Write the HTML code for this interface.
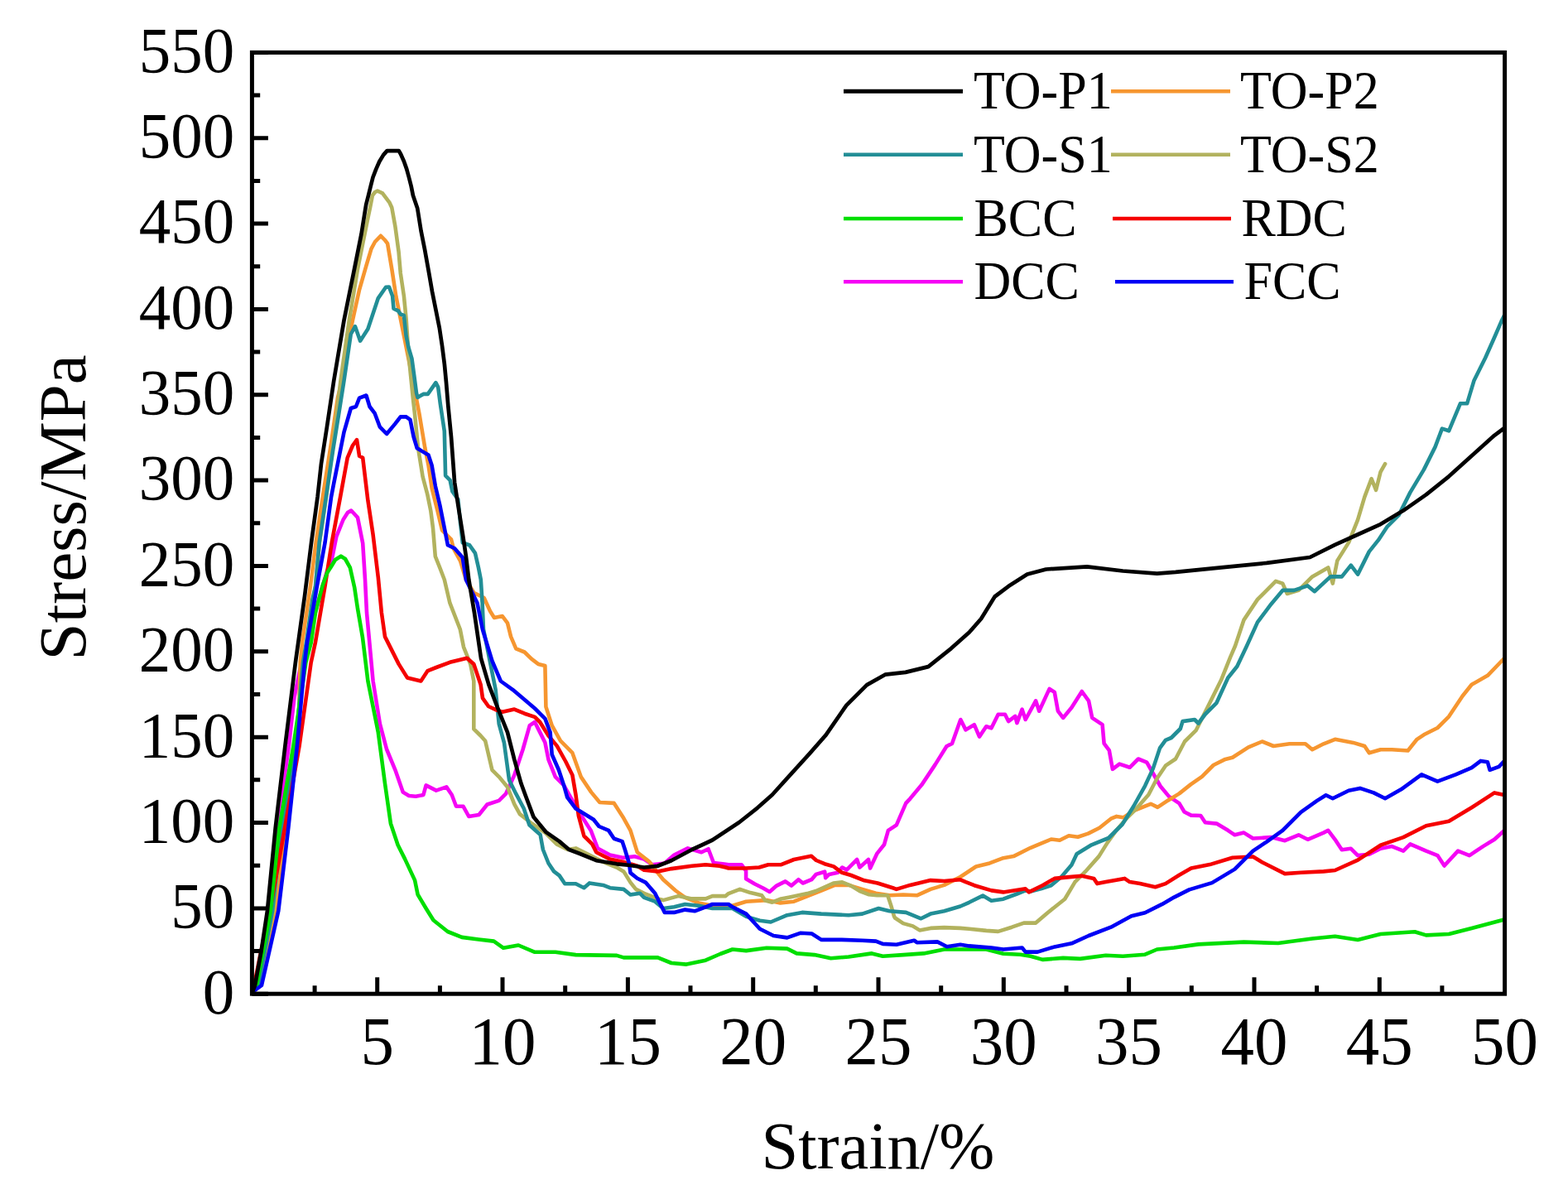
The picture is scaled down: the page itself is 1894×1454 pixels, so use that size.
<!DOCTYPE html>
<html><head><meta charset="utf-8"><title>Stress-strain curves</title>
<style>html,body{margin:0;padding:0;background:#fff;overflow:hidden;}svg{display:block;}</style></head>
<body>
<svg width="1894" height="1454" viewBox="0 0 1894 1454">
<rect width="1894" height="1454" fill="#fff"/>
<g fill="none" stroke-linejoin="round" stroke-linecap="round">
<polyline points="305.0,1198.0 309.0,1190.0 324.5,1100.0 335.0,1000.0 349.0,900.0 355.5,842.0 362.0,810.0 372.0,776.0 382.0,735.0 390.0,707.0 395.0,690.0 400.8,675.7 406.3,648.2 414.6,627.5 420.0,619.0 424.2,616.5 432.0,625.0 438.2,656.0 441.0,700.0 443.0,740.0 450.6,822.5 458.9,874.1 467.1,905.0 477.4,929.8 486.7,956.6 494.0,961.0 502.2,961.8 511.4,960.0 514.6,948.4 526.9,954.6 539.3,950.4 545.8,960.0 551.0,973.8 559.6,973.8 566.3,986.0 578.5,984.0 588.5,971.5 602.7,966.9 611.0,958.7 621.3,936.0 631.6,905.0 639.8,876.2 646.0,872.0 652.2,884.4 658.4,896.8 662.5,917.4 670.8,938.1 681.1,948.4 689.3,962.8 703.8,987.6 713.7,1002.9 721.9,1024.4 736.8,1032.6 753.3,1035.9 766.5,1034.3 778.0,1037.6 787.9,1044.2 802.8,1042.5 814.3,1032.6 830.8,1024.4 847.3,1029.3 855.6,1025.2 862.0,1042.0 875.0,1043.5 880.0,1044.3 895.8,1044.3 901.1,1051.7 901.1,1061.2 911.7,1067.5 922.2,1072.8 929.6,1077.0 938.1,1069.6 948.6,1064.4 956.0,1069.6 964.5,1062.2 969.8,1066.5 980.3,1062.2 985.6,1055.9 996.2,1052.7 997.2,1060.1 1001.4,1055.9 1012.0,1053.8 1017.3,1047.5 1022.6,1050.6 1027.8,1045.3 1035.2,1038.0 1038.4,1047.5 1049.0,1038.0 1051.1,1048.5 1059.5,1030.6 1068.0,1020.0 1072.9,1002.9 1082.8,996.3 1094.3,969.9 1099.3,964.6 1113.1,948.1 1129.6,923.4 1143.4,901.3 1150.0,897.9 1160.3,869.0 1166.5,881.4 1176.8,875.2 1183.0,889.6 1191.3,877.3 1197.5,879.3 1205.7,862.8 1214.0,862.8 1218.1,871.1 1226.3,864.9 1228.4,873.1 1234.6,856.6 1238.7,869.0 1251.1,846.3 1255.2,858.7 1267.6,831.9 1273.8,836.0 1277.9,858.7 1284.1,866.9 1294.4,854.6 1306.8,835.0 1315.0,846.3 1319.2,866.9 1331.6,875.2 1333.6,897.9 1339.8,906.1 1343.9,928.8 1352.2,922.6 1364.6,926.8 1374.9,916.5 1385.2,920.6 1393.4,935.0 1401.7,949.5 1412.0,961.9 1424.4,970.1 1430.6,980.5 1438.8,984.6 1450.3,985.0 1455.8,993.2 1469.5,994.6 1483.3,1002.8 1491.5,1008.3 1502.5,1005.6 1513.5,1012.5 1535.5,1011.1 1552.0,1015.2 1568.6,1008.3 1579.6,1013.8 1598.8,1005.6 1604.3,1002.8 1612.6,1013.8 1620.8,1026.2 1631.8,1024.8 1640.1,1033.1 1653.8,1031.7 1667.6,1024.8 1681.3,1022.1 1695.1,1027.6 1703.4,1019.3 1722.6,1027.6 1736.4,1033.1 1744.6,1045.5 1761.1,1027.6 1774.9,1033.1 1791.4,1022.1 1805.1,1013.8 1817.0,1003.0" stroke="#F505F5" stroke-width="4.6"/>
<polyline points="305.0,1198.0 314.8,1190.0 332.4,1100.0 344.4,1000.0 360.0,900.0 362.7,800.0 365.0,776.0 375.0,707.5 381.6,655.0 389.8,600.0 400.0,535.0 408.0,480.0 413.0,460.0 417.6,428.2 425.9,387.0 434.1,349.8 442.4,320.9 448.5,300.3 453.0,292.0 459.9,284.8 465.0,290.0 468.1,294.1 473.3,325.0 478.3,357.5 483.8,385.0 489.3,412.6 494.8,440.1 500.3,467.6 506.5,500.0 513.4,541.3 517.5,561.9 521.6,589.4 528.5,616.9 534.0,640.3 545.0,651.3 547.8,662.3 556.0,677.4 562.9,700.0 572.3,715.8 584.7,722.0 592.0,738.0 597.0,746.0 606.8,744.1 613.0,752.4 617.1,768.9 623.3,783.3 633.6,787.5 641.9,795.7 650.1,801.9 658.4,804.0 659.4,853.5 666.7,876.2 677.0,894.7 691.4,909.2 701.7,938.1 714.1,956.6 724.4,969.0 741.7,969.9 753.3,988.1 761.5,1002.9 769.8,1029.3 784.6,1040.9 794.5,1054.1 801.1,1062.3 816.0,1075.5 827.5,1083.8 844.0,1090.4 860.5,1093.7 884.8,1093.7 901.3,1088.7 926.0,1087.1 942.5,1090.4 959.0,1088.7 975.5,1082.1 992.0,1075.5 1008.5,1068.9 1025.0,1068.9 1041.5,1073.9 1058.0,1078.8 1074.5,1081.3 1091.0,1080.5 1107.5,1081.3 1124.0,1073.9 1140.5,1068.9 1160.0,1059.0 1178.9,1046.5 1195.4,1042.4 1211.9,1036.2 1224.3,1034.1 1244.9,1023.8 1269.7,1013.5 1280.0,1014.8 1291.0,1009.3 1302.0,1010.7 1314.4,1006.6 1328.1,999.7 1341.9,988.7 1348.8,985.9 1357.0,987.3 1369.4,979.0 1390.0,970.8 1398.3,974.9 1410.7,966.7 1424.4,958.4 1438.2,947.4 1451.9,937.8 1465.7,924.0 1480.0,916.9 1488.8,914.8 1508.0,902.4 1524.5,895.5 1538.3,901.0 1557.6,898.3 1576.8,898.3 1585.1,905.2 1598.8,898.3 1612.6,892.8 1634.6,896.9 1648.3,901.0 1653.8,909.3 1667.6,905.2 1681.3,905.2 1700.6,906.5 1711.6,892.8 1719.9,887.3 1736.4,879.0 1750.1,865.3 1766.6,840.5 1777.6,826.8 1796.9,815.8 1817.0,795.0" stroke="#F69630" stroke-width="4.6"/>
<polyline points="305.0,1198.0 312.0,1190.0 330.0,1100.0 341.0,1000.0 358.0,900.0 367.0,800.0 371.0,776.0 381.0,707.5 386.0,655.0 394.0,600.0 402.0,540.0 411.4,460.0 421.7,387.0 432.0,325.0 444.4,263.2 447.2,250.0 449.9,236.0 453.0,232.0 456.0,230.5 462.0,233.3 470.3,244.3 473.3,250.8 477.4,273.5 481.6,304.4 483.8,330.0 487.9,357.5 490.6,385.0 493.4,426.3 496.1,453.8 498.9,481.4 501.0,500.0 505.1,541.3 510.6,575.7 516.1,596.3 520.3,616.9 523.0,637.6 525.8,671.9 531.3,685.7 536.8,700.0 543.4,728.2 555.8,760.0 560.0,781.3 568.2,801.9 572.3,822.5 572.3,880.3 580.6,888.5 586.2,894.7 594.4,929.8 602.7,938.1 613.0,950.4 621.3,971.1 627.9,983.1 642.7,994.7 659.2,1006.2 672.4,1019.4 685.6,1026.0 695.5,1024.4 712.0,1032.6 728.5,1040.9 745.0,1047.5 753.3,1052.4 761.5,1065.6 768.1,1073.9 778.0,1078.8 794.5,1085.4 801.1,1087.1 819.3,1082.1 835.8,1085.4 852.3,1085.4 860.5,1082.1 876.5,1082.1 880.0,1079.1 893.7,1073.9 906.4,1078.1 920.1,1081.2 924.4,1087.6 932.8,1089.7 943.4,1085.5 953.9,1083.4 975.0,1079.1 985.6,1076.0 1006.7,1066.5 1017.3,1065.4 1027.8,1069.6 1038.4,1076.0 1049.0,1080.2 1059.5,1081.2 1072.2,1081.2 1076.4,1093.9 1080.0,1106.6 1081.1,1108.5 1091.0,1115.1 1102.6,1118.4 1110.8,1123.4 1124.0,1120.9 1140.5,1120.1 1160.0,1120.9 1170.6,1121.8 1191.3,1123.9 1205.7,1124.9 1222.2,1119.7 1236.7,1114.6 1251.1,1114.6 1265.5,1102.2 1286.2,1085.7 1298.5,1065.1 1310.9,1052.7 1327.4,1034.1 1337.7,1017.6 1348.1,1003.2 1360.4,988.7 1372.8,976.3 1387.3,959.8 1397.6,940.0 1407.9,924.7 1420.0,916.5 1431.0,895.5 1444.8,881.8 1461.3,848.8 1475.0,821.3 1486.0,793.8 1492.0,780.0 1502.5,748.6 1519.0,723.9 1541.0,701.9 1549.3,704.6 1554.8,717.0 1568.6,712.9 1585.1,696.4 1604.3,685.4 1609.8,704.6 1615.3,677.1 1629.1,655.1 1640.1,627.6 1648.3,600.1 1656.6,578.1 1662.1,591.8 1667.6,569.8 1673.1,560.2" stroke="#B2B25E" stroke-width="4.6"/>
<polyline points="305.0,1198.0 312.0,1190.0 329.0,1100.0 340.0,1000.0 357.0,900.0 366.0,800.0 370.0,776.0 377.4,723.8 381.2,707.5 385.7,655.0 393.9,600.0 402.0,545.0 410.0,495.0 415.5,460.0 423.8,403.5 429.0,394.2 435.1,411.7 444.4,397.3 456.8,360.1 466.1,346.7 470.0,346.5 474.1,357.5 475.5,372.7 481.0,375.4 483.8,379.5 487.9,380.9 490.6,405.7 493.4,419.4 497.5,433.2 500.3,453.8 503.0,474.5 504.4,480.0 511.3,475.9 516.8,475.9 526.4,462.1 529.2,467.6 531.9,488.2 536.8,520.6 538.1,574.3 543.6,579.8 546.4,593.5 553.3,603.2 556.0,630.7 558.8,655.4 567.0,658.2 573.9,667.8 578.0,685.7 580.8,700.0 582.6,728.2 584.0,760.0 588.3,781.3 598.6,832.8 602.7,874.1 608.9,896.8 615.1,942.2 623.3,958.7 632.8,976.5 639.4,996.3 652.6,1007.9 655.9,1026.0 662.5,1042.5 669.1,1052.4 675.7,1057.4 682.3,1067.3 695.5,1067.3 705.4,1072.2 712.0,1066.4 728.5,1068.9 736.8,1072.2 753.3,1073.9 761.5,1080.5 773.1,1078.8 778.0,1083.8 791.2,1088.7 801.1,1097.0 814.3,1095.3 827.5,1092.0 844.0,1093.7 860.5,1097.0 884.8,1097.0 901.3,1106.9 917.8,1111.8 931.0,1113.5 950.8,1105.2 968.9,1101.9 992.0,1103.6 1025.0,1105.2 1041.5,1103.6 1061.3,1097.0 1074.5,1100.3 1094.3,1101.9 1112.5,1109.3 1124.0,1103.6 1140.5,1100.3 1160.0,1094.5 1170.6,1089.8 1187.1,1081.6 1197.5,1087.7 1211.9,1085.7 1228.4,1079.5 1238.7,1075.4 1244.9,1076.4 1257.3,1073.3 1269.7,1069.2 1282.0,1058.9 1294.4,1044.4 1300.6,1031.3 1318.5,1020.3 1339.1,1012.0 1355.7,995.5 1369.4,973.5 1383.2,948.8 1392.8,928.1 1401.0,903.4 1407.9,893.8 1414.8,891.0 1425.8,880.0 1428.5,871.1 1443.0,869.0 1447.5,873.5 1455.8,862.5 1469.5,848.8 1483.3,818.5 1494.3,804.8 1506.0,780.0 1519.0,751.4 1535.5,729.4 1549.3,712.9 1563.1,712.9 1579.6,707.4 1587.8,714.2 1607.1,696.4 1620.8,696.4 1631.8,682.6 1640.1,693.6 1653.8,666.1 1664.8,652.4 1675.8,635.8 1689.6,622.1 1703.4,594.6 1719.9,567.1 1733.6,539.6 1741.9,517.6 1750.1,520.3 1763.9,487.3 1772.1,487.3 1780.4,459.8 1794.1,432.3 1805.1,407.5 1813.4,388.3 1817.0,381.0" stroke="#228E96" stroke-width="4.6"/>
<polyline points="305.0,1198.0 307.0,1190.0 315.0,1150.0 326.0,1100.0 344.0,1000.0 361.7,900.0 375.7,800.0 380.9,776.0 392.6,707.5 400.8,655.0 411.1,600.0 419.7,552.8 426.0,538.0 431.0,531.2 434.1,550.8 438.2,552.8 444.4,604.4 450.6,645.7 456.8,697.3 460.9,740.0 465.0,768.9 473.3,785.4 481.6,801.9 491.9,818.4 508.4,822.5 516.6,810.1 527.0,806.0 543.4,799.8 564.1,794.7 572.3,801.9 580.6,826.7 583.0,843.2 590.0,853.0 600.0,857.6 606.8,859.7 621.3,856.6 633.6,861.7 646.0,865.9 652.2,872.0 662.5,888.5 672.8,900.9 683.2,919.5 691.4,936.0 695.5,960.0 698.8,984.8 705.4,1009.5 715.3,1019.4 720.3,1029.3 736.8,1037.6 753.3,1040.9 769.8,1045.8 778.0,1050.8 794.5,1052.4 811.0,1049.1 835.8,1045.8 852.3,1044.2 868.8,1045.8 876.5,1047.5 880.0,1048.5 901.0,1048.5 917.0,1047.5 928.0,1044.3 943.0,1044.3 959.0,1038.0 980.0,1033.7 986.0,1039.0 996.0,1043.2 1007.0,1046.4 1017.0,1053.8 1028.0,1057.0 1044.0,1063.3 1060.0,1066.5 1080.0,1072.8 1082.8,1073.9 1099.3,1068.9 1124.0,1063.1 1140.5,1064.0 1160.0,1062.3 1166.5,1065.1 1176.8,1069.2 1197.5,1075.4 1211.9,1077.4 1238.7,1073.3 1242.8,1077.4 1259.3,1069.2 1273.8,1060.9 1294.4,1058.9 1306.8,1057.8 1321.2,1060.9 1325.4,1067.1 1335.7,1065.1 1358.4,1060.9 1364.6,1065.1 1376.9,1067.1 1395.5,1071.2 1407.9,1067.1 1424.4,1056.8 1438.8,1048.5 1461.3,1044.1 1488.8,1035.8 1513.5,1034.5 1524.5,1041.3 1552.0,1055.1 1571.3,1053.7 1598.8,1052.4 1612.6,1051.0 1640.1,1038.6 1667.6,1020.7 1695.1,1011.1 1722.6,997.3 1750.1,991.8 1777.6,975.3 1805.1,957.4 1817.0,960.0" stroke="#F50000" stroke-width="4.6"/>
<polyline points="305.0,1198.0 310.0,1190.0 326.8,1100.0 337.3,1000.0 354.5,900.0 369.5,800.0 375.8,776.0 381.0,740.0 389.5,707.5 395.0,692.0 399.4,685.3 405.0,676.0 411.8,671.6 417.0,675.0 422.8,685.3 428.3,710.1 432.0,735.0 438.0,770.0 444.4,822.5 456.8,884.4 465.0,946.3 471.9,994.4 480.5,1020.2 489.1,1037.4 501.1,1063.1 504.6,1080.3 514.9,1097.5 523.5,1111.3 540.7,1125.0 557.9,1131.9 578.0,1134.5 596.5,1136.6 608.1,1144.8 626.2,1141.5 646.0,1149.8 670.8,1149.8 695.5,1153.1 745.0,1153.9 753.3,1156.4 794.5,1156.4 811.0,1163.0 829.2,1164.6 852.3,1159.7 870.0,1152.0 884.8,1146.5 901.3,1148.1 926.0,1144.8 950.8,1145.6 962.3,1151.4 983.8,1153.1 1003.6,1157.2 1025.0,1155.5 1053.1,1151.4 1066.3,1154.7 1091.0,1153.1 1115.8,1151.4 1140.5,1146.5 1160.0,1146.5 1191.3,1146.5 1211.9,1151.7 1232.5,1152.7 1244.9,1154.8 1259.3,1158.9 1284.1,1156.9 1304.7,1157.9 1335.7,1153.8 1356.3,1154.8 1383.1,1152.7 1397.6,1146.5 1418.2,1144.5 1447.5,1140.4 1502.5,1137.6 1543.8,1139.0 1585.1,1133.5 1612.6,1130.7 1640.1,1134.9 1667.6,1128.0 1708.9,1125.2 1722.6,1129.4 1750.1,1128.0 1777.6,1121.1 1817.0,1110.5" stroke="#00DE00" stroke-width="4.6"/>
<polyline points="305.0,1198.0 316.0,1190.0 336.3,1100.0 348.3,1000.0 359.0,900.0 368.0,800.0 371.0,776.0 383.0,707.5 392.6,655.0 400.1,600.0 403.2,583.8 415.5,521.9 423.8,493.0 430.0,491.0 434.1,480.6 442.4,477.5 446.5,491.0 452.7,499.2 458.9,515.7 467.1,524.0 477.4,511.6 483.8,503.4 490.6,503.4 495.5,506.9 499.6,527.5 503.8,541.3 510.6,545.4 517.5,549.5 521.6,561.9 525.8,586.7 531.3,610.0 536.8,637.6 540.9,658.2 549.1,662.3 558.8,673.3 562.9,700.0 576.5,728.2 583.0,760.6 594.4,797.8 604.8,822.5 619.2,832.8 631.6,843.2 646.0,855.5 658.4,867.9 664.6,884.4 666.7,911.2 674.9,929.8 681.1,948.4 685.2,962.8 695.5,976.5 717.0,989.7 723.6,998.0 735.1,1002.9 741.7,1012.8 751.6,1016.1 754.9,1026.0 759.9,1042.5 761.5,1054.1 769.8,1060.7 779.7,1065.6 791.2,1078.8 797.8,1092.0 802.8,1101.9 814.3,1101.9 827.5,1098.6 839.1,1100.3 852.3,1095.3 860.5,1092.0 880.0,1092.0 884.8,1095.3 901.3,1103.6 917.8,1121.7 934.3,1130.0 950.8,1132.4 967.3,1126.7 980.5,1127.5 992.0,1134.9 1016.8,1134.9 1041.5,1135.7 1058.0,1136.6 1066.3,1139.9 1082.8,1140.7 1104.2,1135.7 1107.5,1138.2 1132.3,1137.4 1143.8,1143.2 1160.0,1140.7 1170.6,1142.4 1197.5,1144.5 1211.9,1146.5 1234.6,1144.5 1238.7,1149.6 1253.2,1149.6 1273.8,1143.4 1294.4,1139.3 1315.0,1130.0 1341.9,1119.7 1366.6,1106.3 1383.1,1102.2 1403.8,1091.9 1418.2,1083.6 1436.5,1074.4 1464.0,1066.1 1491.5,1049.6 1513.5,1027.6 1530.0,1016.6 1549.3,1002.8 1571.3,980.8 1590.6,967.1 1601.6,960.2 1609.8,964.3 1629.1,954.7 1642.8,951.9 1659.3,957.4 1673.1,964.3 1692.4,953.3 1717.1,935.4 1736.4,943.7 1758.4,935.4 1777.6,927.2 1788.6,918.9 1796.9,920.3 1799.6,929.9 1810.6,925.8 1817.0,919.0" stroke="#0000F5" stroke-width="4.6"/>
<polyline points="305.0,1198.0 308.0,1190.0 315.5,1149.0 322.9,1100.0 332.7,1000.0 344.5,900.0 356.9,800.0 368.0,720.0 376.1,655.0 383.6,600.0 388.0,560.0 395.0,515.0 403.2,460.0 415.5,387.0 426.6,332.0 436.5,282.5 442.2,247.0 445.0,236.0 447.7,225.0 450.5,214.0 454.3,204.1 458.2,195.3 463.1,187.1 467.5,182.1 481.8,182.1 484.0,186.0 487.9,194.8 491.2,204.1 493.9,214.0 496.7,225.0 498.9,236.0 504.2,251.5 508.6,279.0 513.0,301.0 518.2,330.0 522.0,352.0 526.4,374.0 530.8,396.0 534.1,418.0 536.9,440.0 539.0,462.0 541.3,490.0 545.0,527.5 549.1,582.5 553.3,610.0 558.8,644.4 562.9,671.9 566.3,700.0 573.0,740.0 581.0,795.0 590.3,826.7 600.6,853.5 613.0,884.4 621.3,917.4 629.5,946.3 634.5,960.0 644.4,986.4 659.2,1004.6 675.7,1016.1 687.3,1026.0 700.5,1031.0 720.3,1039.2 745.0,1043.3 761.5,1045.0 778.0,1047.5 794.5,1045.8 811.0,1039.2 835.8,1026.0 860.5,1014.5 893.0,993.0 915.0,975.6 932.6,960.0 950.8,939.9 978.3,909.6 997.6,887.6 1022.3,851.8 1047.1,827.1 1069.1,814.7 1093.8,811.9 1121.3,805.1 1148.9,783.1 1170.6,763.8 1185.1,747.3 1201.6,720.5 1218.1,708.1 1240.8,693.6 1263.5,687.5 1313.0,684.4 1356.3,689.5 1397.6,692.6 1420.0,690.9 1475.0,685.4 1530.0,679.9 1582.3,673.0 1612.6,657.9 1640.1,645.5 1667.6,633.1 1695.1,616.6 1722.6,597.3 1750.1,575.3 1777.6,550.6 1805.1,525.8 1817.0,517.0" stroke="#000" stroke-width="4.7"/>
</g>
<path d="M304.4,1200.2H323.9M304.4,1148.5H314.2M304.4,1096.9H323.9M304.4,1045.2H314.2M304.4,993.5H323.9M304.4,941.8H314.2M304.4,890.2H323.9M304.4,838.5H314.2M304.4,786.8H323.9M304.4,735.1H314.2M304.4,683.5H323.9M304.4,631.8H314.2M304.4,580.1H323.9M304.4,528.5H314.2M304.4,476.8H323.9M304.4,425.1H314.2M304.4,373.4H323.9M304.4,321.8H314.2M304.4,270.1H323.9M304.4,218.4H314.2M304.4,166.7H323.9M304.4,115.1H314.2M304.4,63.4H323.9M380.1,1200.2V1190.2M455.7,1200.2V1180.2M531.4,1200.2V1190.2M607.0,1200.2V1180.2M682.7,1200.2V1190.2M758.4,1200.2V1180.2M834.0,1200.2V1190.2M909.7,1200.2V1180.2M985.3,1200.2V1190.2M1061.0,1200.2V1180.2M1136.7,1200.2V1190.2M1212.3,1200.2V1180.2M1288.0,1200.2V1190.2M1363.6,1200.2V1180.2M1439.3,1200.2V1190.2M1515.0,1200.2V1180.2M1590.6,1200.2V1190.2M1666.3,1200.2V1180.2M1741.9,1200.2V1190.2" stroke="#000" stroke-width="5" fill="none"/>
<rect x="304.4" y="63.4" width="1513.2" height="1136.8" fill="none" stroke="#000" stroke-width="5.0"/>
<g font-family="Liberation Serif, Times New Roman, serif" font-size="77" text-anchor="end" fill="#000">
<text transform="translate(283.3,1223.5) scale(1,1.027)">0</text>
<text transform="translate(283.3,1120.2) scale(1,1.027)">50</text>
<text transform="translate(283.3,1016.8) scale(1,1.027)">100</text>
<text transform="translate(283.3,913.5) scale(1,1.027)">150</text>
<text transform="translate(283.3,810.1) scale(1,1.027)">200</text>
<text transform="translate(283.3,706.8) scale(1,1.027)">250</text>
<text transform="translate(283.3,603.4) scale(1,1.027)">300</text>
<text transform="translate(283.3,500.1) scale(1,1.027)">350</text>
<text transform="translate(283.3,396.7) scale(1,1.027)">400</text>
<text transform="translate(283.3,293.4) scale(1,1.027)">450</text>
<text transform="translate(283.3,190.0) scale(1,1.027)">500</text>
<text transform="translate(283.3,86.7) scale(1,1.027)">550</text>
</g>
<g font-family="Liberation Serif, Times New Roman, serif" font-size="81" text-anchor="middle" fill="#000">
<text transform="translate(455.7,1285) scale(1,1.015)">5</text>
<text transform="translate(607.0,1285) scale(1,1.015)">10</text>
<text transform="translate(758.4,1285) scale(1,1.015)">15</text>
<text transform="translate(909.7,1285) scale(1,1.015)">20</text>
<text transform="translate(1061.0,1285) scale(1,1.015)">25</text>
<text transform="translate(1212.3,1285) scale(1,1.015)">30</text>
<text transform="translate(1363.6,1285) scale(1,1.015)">35</text>
<text transform="translate(1515.0,1285) scale(1,1.015)">40</text>
<text transform="translate(1666.3,1285) scale(1,1.015)">45</text>
<text transform="translate(1817.6,1285) scale(1,1.015)">50</text>
</g>
<text font-family="Liberation Serif, Times New Roman, serif" font-size="80.5" x="919.5" y="1411">Strain/%</text>
<text font-family="Liberation Serif, Times New Roman, serif" font-size="81" transform="translate(103,797.4) rotate(-90)" x="0" y="0">Stress/MPa</text>
<g font-family="Liberation Serif, Times New Roman, serif" font-size="62" fill="#000">
<line x1="1019" y1="110.2" x2="1163" y2="110.2" stroke="#000" stroke-width="4.9"/>
<text transform="translate(1176,131.0) scale(1,1.045)">TO-P1</text>
<line x1="1342" y1="110.2" x2="1486" y2="110.2" stroke="#F69630" stroke-width="4.5"/>
<text transform="translate(1498,131.0) scale(1,1.045)">TO-P2</text>
<line x1="1019" y1="186.7" x2="1163" y2="186.7" stroke="#228E96" stroke-width="4.5"/>
<text transform="translate(1176,207.5) scale(1,1.045)">TO-S1</text>
<line x1="1342" y1="186.7" x2="1486" y2="186.7" stroke="#B2B25E" stroke-width="4.5"/>
<text transform="translate(1498,207.5) scale(1,1.045)">TO-S2</text>
<line x1="1019" y1="263.9" x2="1163" y2="263.9" stroke="#00DE00" stroke-width="4.5"/>
<text transform="translate(1176.5,284.7) scale(1,1.045)">BCC</text>
<line x1="1344" y1="263.9" x2="1487" y2="263.9" stroke="#F50000" stroke-width="4.5"/>
<text transform="translate(1499.5,284.7) scale(1,1.045)">RDC</text>
<line x1="1019" y1="340.2" x2="1163" y2="340.2" stroke="#F505F5" stroke-width="4.5"/>
<text transform="translate(1176.5,361.0) scale(1,1.045)">DCC</text>
<line x1="1347" y1="340.2" x2="1490" y2="340.2" stroke="#0000F5" stroke-width="4.5"/>
<text transform="translate(1502.5,361.0) scale(1,1.045)">FCC</text>
</g>
</svg>
</body></html>
